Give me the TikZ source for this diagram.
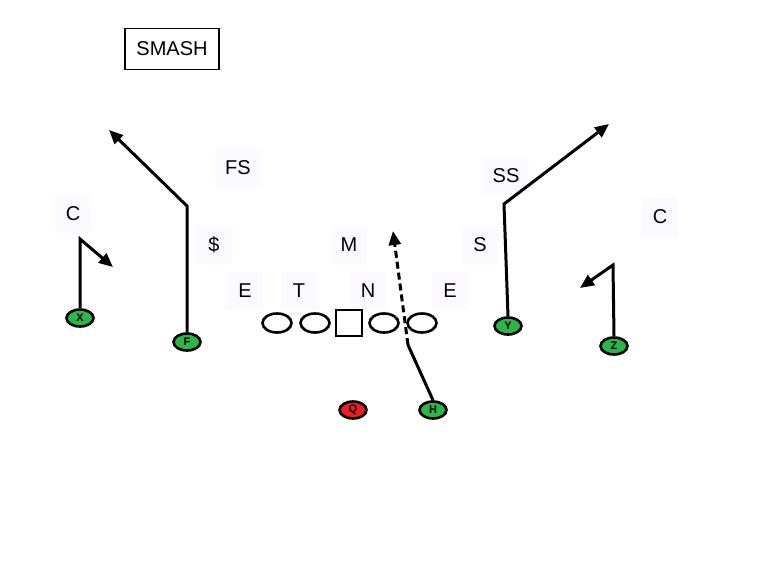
\documentclass[tikz,border=0pt]{standalone}
\usepackage{fontspec}
\setmainfont{Liberation Sans}
\usetikzlibrary{arrows.meta,shapes.geometric}
\definecolor{pgreen}{RGB}{44,182,72}
\definecolor{pred}{RGB}{236,30,36}
\definecolor{lbl}{RGB}{252,250,255}
\tikzset{
  defl/.style={fill=lbl, minimum width=36pt, minimum height=38pt, inner sep=0pt, font=\fontsize{20}{20}\selectfont},
  ol/.style={draw=black, line width=2.6pt, ellipse, minimum width=29pt, minimum height=19pt, inner sep=0pt},
  ctr/.style={draw=black, line width=2.6pt, minimum width=26pt, minimum height=26pt, inner sep=0pt},
  plr/.style={draw=black, line width=2.6pt, ellipse, fill=pgreen, minimum width=27pt, minimum height=17pt, inner sep=0pt, font=\fontsize{11}{11}\selectfont\bfseries},
  route/.style={line width=3pt, line join=miter},
  rarrow/.style={route, -{Triangle[length=14pt,width=12pt]}},
}
\begin{document}
\begin{tikzpicture}[x=1pt,y=-1pt]
\useasboundingbox (0,0) rectangle (768,576);
\fill[white] (0,0) rectangle (768,576);
% title
\node[draw=black, line width=1.5pt, minimum width=94pt, minimum height=41pt, font=\fontsize{20}{20}\selectfont] (title) at (172,49) {SMASH};
% defenders
\node[defl] (cl) at (73,214) {C};
\node[defl, minimum width=46pt] (fs) at (238,168) {FS};
\node[defl] (dol) at (214,245) {\$};
\node[defl] (m) at (349,245) {M};
\node[defl] (s) at (480,245) {S};
\node[defl] (e1) at (245,291) {E};
\node[defl] (t) at (299,291) {T};
\node[defl] (n) at (368,291) {N};
\node[defl] (e2) at (450,291) {E};
\node[defl, minimum width=46pt] (ss) at (506,176) {SS};
\node[defl] (cr) at (660,217) {C};
% offensive line
\node[ol] (lt) at (277,323) {};
\node[ol] (lg) at (315,323) {};
\node[ctr] (c) at (349,323) {};
\node[ol] (rg) at (384,323) {};
\node[ol] (rt) at (422,323) {};
% players
\node[plr] (x) at (80,318) {X};
\node[plr] (f) at (187,342) {F};
\node[plr] (y) at (508,326) {Y};
\node[plr] (z) at (614,346) {Z};
\node[plr, fill=pred] (q) at (353,410) {Q};
\node[plr] (h) at (433,410) {H};
% route points
\coordinate (xb) at (80,239);
\coordinate (xe) at (113,267);
\coordinate (fb) at (187,206);
\coordinate (fe) at (109,130);
\coordinate (yb) at (504,204);
\coordinate (ye) at (609,124);
\coordinate (zb) at (613,265);
\coordinate (ze) at (580,288);
\coordinate (hb) at (408,345);
\coordinate (he) at (393,231);
% routes
\draw[rarrow] (x.north) -- (xb) -- (xe);
\draw[rarrow] (f.north) -- (fb) -- (fe);
\draw[rarrow] (y.north) -- (yb) -- (ye);
\draw[rarrow] (z.north) -- (zb) -- (ze);
\draw[route] (h.north) -- (hb);
\draw[route, dash pattern=on 7pt off 4pt, -{Triangle[length=14pt,width=12pt]}] (hb) -- (he);
\end{tikzpicture}
\end{document}
